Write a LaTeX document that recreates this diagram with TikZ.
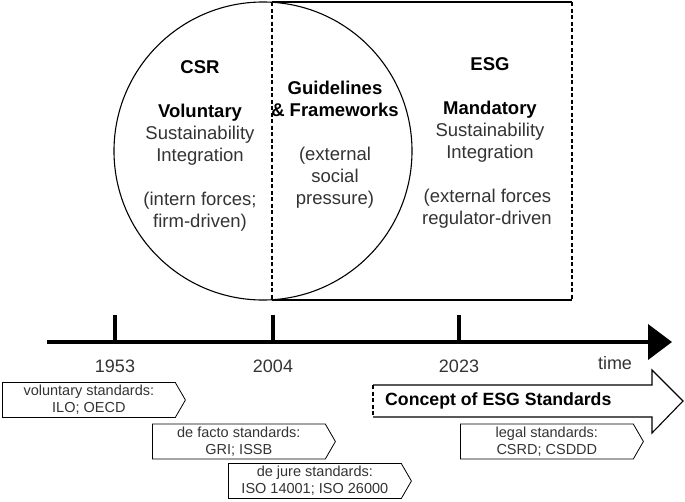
\documentclass[tikz,border=0pt]{standalone}
\usepackage{fontspec}
\setmainfont{Liberation Sans}
\usetikzlibrary{shapes.symbols,arrows.meta}

\newcommand{\eratext}{\fontsize{18.5}{22}\selectfont}
\newcommand{\stdtext}{\fontsize{14.5}{17}\selectfont}
\newcommand{\yeartext}{\fontsize{18}{21}\selectfont}
\newcommand{\concepttext}{\fontsize{17.7}{21}\selectfont\bfseries}

\begin{document}
\begin{tikzpicture}[x=1pt,y=-1pt,
    every node/.style={inner sep=0pt},
    outline/.style={line width=1.1pt},
    dashline/.style={line width=1.1pt, dash pattern=on 4pt off 2.5pt},
    era/.style={align=center, font=\eratext, text=black!80},
    yearlabel/.style={font=\yeartext, text=black!80},
    std/.style={draw, line width=0.8pt, signal, signal to=east, signal pointer angle=120,
      minimum width=183pt, minimum height=35pt, align=center, font=\stdtext, text=black!80}]
  \useasboundingbox (0,0) rectangle (685,501);

  % CSR circle and ESG box
  \node[circle, draw, outline, minimum size=298pt] (csr) at (263,151) {};
  \coordinate (boxtl) at (272,2);
  \coordinate (boxtr) at (572,2);
  \coordinate (boxbr) at (572,300);
  \coordinate (boxbl) at (272,300);
  \draw[outline] (boxtl) -- (boxtr);
  \draw[outline] (boxbr) -- (boxbl);
  \draw[dashline] (boxtr) -- (boxbr);
  \draw[dashline] (boxtl) -- (boxbl);

  \node[era] (csrtext) at (200,146) {\textcolor{black}{\textbf{CSR}}\\[22pt]
    \textcolor{black}{\textbf{Voluntary}}\\Sustainability\\Integration\\[22pt]
    (intern forces;\\firm-driven)};
  \node[era] (guide) at (335,145) {\textcolor{black}{\textbf{Guidelines}}\\
    \textcolor{black}{\textbf{\& Frameworks}}\\[22pt](external\\social\\pressure)};
  \begin{scope}
    \clip (272,0) rectangle (551.8,300);
    \node[era] (esgtext) at (490,143) {\textcolor{black}{\textbf{ESG}}\\[22pt]
      \textcolor{black}{\textbf{Mandatory}}\\Sustainability\\Integration\\[22pt]
      (external forces;\\regulator-driven)};
  \end{scope}

  % timeline
  \coordinate (tstart) at (47,342);
  \coordinate (tend) at (672,342);
  \draw[line width=4pt, -{Triangle[length=24pt,width=35pt]}] (tstart) -- (tend);
  \foreach \x/\yr/\n in {115/1953/a, 273/2004/b, 459/2023/c} {
    \coordinate (tick\n) at (\x,315);
    \coordinate (base\n) at (\x,342);
    \draw[line width=4pt] (tick\n) -- (base\n);
    \node[yearlabel] (yr\n) at (\x,366) {\yr};
  }
  \node[yearlabel] (time) at (615,363) {time};

  % concept arrow
  \coordinate (ca1) at (373,385);
  \coordinate (ca2) at (373,417);
  \draw[outline] (ca2) -- (652,417) -- (652,433) -- (683,401) -- (652,370) -- (652,385) -- (ca1);
  \draw[dashline] (ca1) -- (ca2);
  \node[anchor=west, font=\concepttext] (concept) at (385,401) {Concept of ESG Standards};

  % standards
  \node[std, anchor=west] (vol) at (2,400) {voluntary standards:\\ILO; OECD};
  \node[std, anchor=west] (facto) at (152,441.5) {de facto standards:\\GRI; ISSB};
  \node[std, anchor=west] (jure) at (228,481) {de jure standards:\\ISO 14001; ISO 26000};
  \node[std, anchor=west] (legal) at (460,441.5) {legal standards:\\CSRD; CSDDD};
\end{tikzpicture}
\end{document}
